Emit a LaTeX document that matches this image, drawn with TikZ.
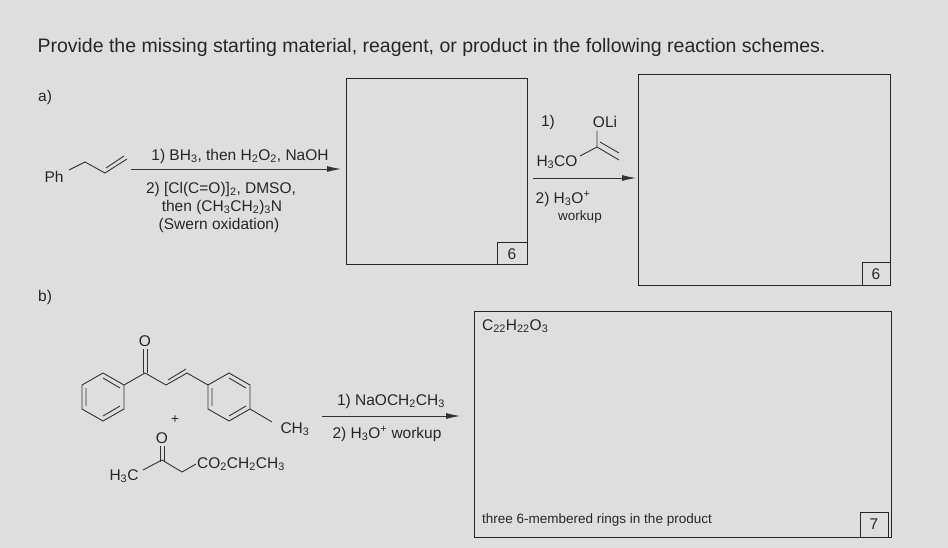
\documentclass[tikz,border=0pt]{standalone}
\usepackage{fontspec}
\setmainfont{Liberation Sans}
\usetikzlibrary{arrows.meta}
\newcommand{\sbs}[1]{\textsubscript{#1}}
\newcommand{\sps}[1]{\textsuperscript{#1}}
\begin{document}
\begin{tikzpicture}[x=1pt,y=-1pt,
  bond/.style={draw=black!80,line width=0.9pt},
  box/.style={draw=black!85,line width=1pt},
  rx/.style={-{Latex[length=14pt,width=6pt]},draw=black!80,line width=0.9pt},
  t/.style={font=\fontsize{15.5}{18}\selectfont,text=black!85,inner sep=1pt},
  ts/.style={font=\fontsize{13.5}{16}\selectfont,text=black!85,inner sep=1pt}]
\fill[black!13] (0,0) rectangle (948,548);
\useasboundingbox (0,0) rectangle (948,548);
\node[anchor=west,font=\fontsize{19.5}{22}\selectfont,text=black!85] (title) at (34,47) {Provide the missing starting material, reagent, or product in the following reaction schemes.};
\node[t,anchor=west] (la) at (37,97) {a)};
\node[t,anchor=west] (lb) at (37,297) {b)};
% boxes
\draw[box] (346,79) rectangle (527,265);
\draw[box] (497,243) rectangle (527,265); \node[t] (n6a) at (512,254) {6};
\draw[box] (638,75) rectangle (890,285);
\draw[box] (862,263) rectangle (890,285); \node[t] (n6b) at (876,274) {6};
\draw[box] (474,311) rectangle (891,537);
\draw[box] (860,512) rectangle (888,537); \node[t] (n7) at (874,524) {7};
\node[t,anchor=west] (form) at (481,326) {C\sbs{22}H\sbs{22}O\sbs{3}};
\node[ts,anchor=west] (rings) at (481,520) {three 6-membered rings in the product};
% part a starting material
\node[t] (ph) at (54,177) {Ph};
\draw[bond] (69,170) -- (85,162) -- (105,173) -- (127,159);
\draw[bond] (106,168) -- (124,156);
\coordinate (a1s) at (131,169); \coordinate (a1e) at (341,169);
\draw[rx] (a1s) -- (a1e);
\node[t] (r1) at (240,156) {1) BH\sbs{3}, then H\sbs{2}O\sbs{2}, NaOH};
\node[t] (r2) at (221,189) {2) [Cl(C=O)]\sbs{2}, DMSO,};
\node[t] (r3) at (222,207) {then (CH\sbs{3}CH\sbs{2})\sbs{3}N};
\node[t] (r4) at (219,225) {(Swern oxidation)};
% second arrow
\coordinate (a2s) at (533,178); \coordinate (a2e) at (636,178);
\draw[rx] (a2s) -- (a2e);
\node[t] (s1) at (548,122) {1)};
\node[t] (oli) at (605,122) {OLi};
\node[t] (h3co) at (557,162) {H\sbs{3}CO};
\draw[bond] (580,156) -- (597,147) -- (597,131);
\draw[bond] (597,147) -- (619,160);
\draw[bond] (600,142) -- (619,153);
\node[t] (s2) at (563,199) {2) H\sbs{3}O\sps{+}};
\node[ts] (wk) at (580,217) {workup};
% part b chalcone
\draw[bond] (103,373) -- (124,385) -- (124,409) -- (103,421) -- (82,409) -- (82,385) -- cycle;
\draw[bond] (86,388) -- (86,406) (103,416) -- (120,406) (103,378) -- (120,388);
\draw[bond] (124,385) -- (145,373) -- (166,385);
\draw[bond] (143,373) -- (143,349) (147,373) -- (147,349);
\draw[bond] (166,385) -- (187,373) -- (208,385);
\draw[bond] (168,380) -- (186,369);
\draw[bond] (229,373) -- (250,385) -- (250,409) -- (229,421) -- (208,409) -- (208,385) -- cycle;
\draw[bond] (212,388) -- (212,406) (229,416) -- (246,406) (229,378) -- (246,388);
\draw[bond] (250,409) -- (272,422);
\node[t] (o1) at (145,341) {O};
\node[t] (ch3) at (295,429) {CH\sbs{3}};
\node[ts] (plus) at (175,420) {+};
% ketoester
\node[t] (o2) at (162,438) {O};
\draw[bond] (160,446) -- (160,462) (164,446) -- (164,462);
\draw[bond] (143,470) -- (162,460) -- (182,472) -- (196,464);
\node[t] (h3c) at (124,476) {H\sbs{3}C};
\node[t,anchor=west] (co2) at (196,464) {CO\sbs{2}CH\sbs{2}CH\sbs{3}};
% arrow b
\coordinate (a3s) at (322,416); \coordinate (a3e) at (460,416);
\draw[rx] (a3s) -- (a3e);
\node[t] (b1) at (391,401) {1) NaOCH\sbs{2}CH\sbs{3}};
\node[t] (b2) at (387,434) {2) H\sbs{3}O\sps{+} workup};
\end{tikzpicture}
\end{document}
